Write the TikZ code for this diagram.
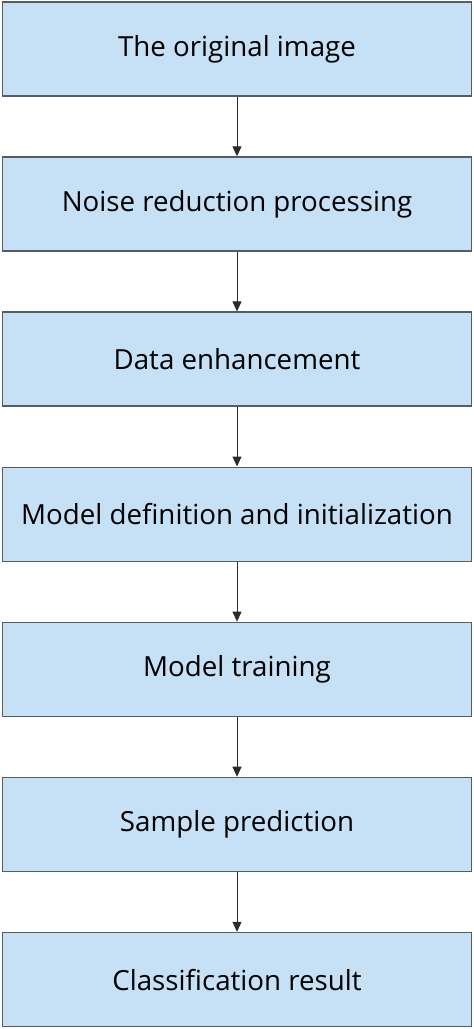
\documentclass[tikz,border=0pt]{standalone}
\usepackage{fontspec}
\setmainfont{Open Sans}
\usepackage{xcolor}
\usetikzlibrary{arrows.meta,positioning}
\definecolor{StepFill}{HTML}{C6E0F6}
\definecolor{StepBorder}{HTML}{575C63}
\definecolor{ArrowInk}{HTML}{2B2B2B}

\begin{document}
\begin{tikzpicture}[
  x=1bp, y=1bp,
  node distance=59.5bp,
  stepbox/.style={draw=StepBorder, line width=1.6bp, fill=StepFill,
    minimum width=469bp, minimum height=94bp, inner sep=0pt,
    font=\fontsize{27.8}{30}\selectfont},
  arrow/.style={-{Triangle[length=10bp, width=9bp]}, line width=1bp, draw=ArrowInk}
]
\useasboundingbox (0,0) rectangle (474,-1029);
\node[stepbox] (orig) at (237,-49) {The original image};
\node[stepbox, below=of orig] (noise) {Noise reduction processing};
\node[stepbox, below=of noise] (enhance) {Data enhancement};
\node[stepbox, below=of enhance] (model) {Model definition and initialization};
\node[stepbox, below=of model] (train) {Model training};
\node[stepbox, below=of train] (predict) {Sample prediction};
\node[stepbox, below=of predict] (result) {Classification result};

\draw[arrow] (orig) -- (noise);
\draw[arrow] (noise) -- (enhance);
\draw[arrow] (enhance) -- (model);
\draw[arrow] (model) -- (train);
\draw[arrow] (train) -- (predict);
\draw[arrow] (predict) -- (result);
\end{tikzpicture}
\end{document}
